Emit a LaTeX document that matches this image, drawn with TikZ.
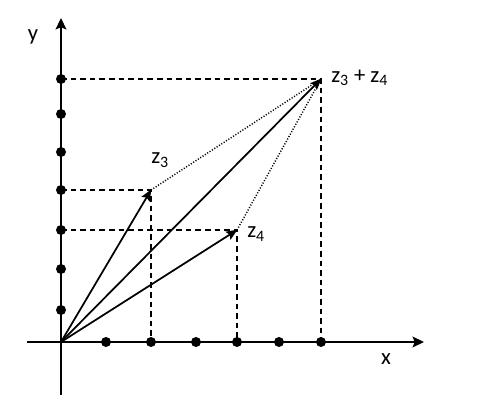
\documentclass[tikz,border=0pt]{standalone}
\usepackage{fontspec}
\setmainfont{Carlito}
\usetikzlibrary{arrows.meta}
\begin{document}
\begin{tikzpicture}[x=0.75pt,y=-0.75pt,
  axis/.style={line width=1.5pt,-{Stealth[length=8.5pt,width=8pt,inset=1.5pt]}},
  vec/.style={line width=1.3pt,-{Stealth[length=8.5pt,width=7pt,inset=1.5pt]},shorten >=-0.5pt},
  guide/.style={line width=1pt,dash pattern=on 4.2pt off 3pt},
  diag/.style={line width=1.1pt,dash pattern=on 0.8pt off 1.3pt},
  tick/.style={circle,fill=black,inner sep=0pt,minimum size=7.5pt},
  lbl/.style={font=\fontsize{17pt}{19pt}\selectfont,inner sep=0pt}]
\useasboundingbox (0,0) rectangle (483,413);
% key points
\coordinate (O) at (61,342);
\coordinate (xl) at (27,342);
\coordinate (xr) at (424,342);
\coordinate (yb) at (61,395);
\coordinate (yt) at (61,18);
\coordinate (z3) at (151,190);
\coordinate (z4) at (237,230);
\coordinate (s) at (321,79);
% guides
\draw[guide] (61,79) -- (s) -- (321,342);
\draw[guide] (61,190) -- (z3) -- (151,342);
\draw[guide] (61,230) -- (z4) -- (237,342);
% axes
\draw[axis] (xl) -- (xr);
\draw[axis] (yb) -- (yt);
% dots on x axis
\foreach \n/\xx in {1/106,2/151,3/196,4/237,5/279,6/321}
  \node[tick] (dx\n) at (\xx,342) {};
% dots on y axis
\foreach \n/\yy in {1/310,2/269,3/230,4/190,5/152,6/114,7/79}
  \node[tick] (dy\n) at (61,\yy) {};
% diagonals of parallelogram
\draw[diag] (z3) -- (s);
\draw[diag] (z4) -- (s);
% vectors
\draw[vec] (O) -- (z3);
\draw[vec] (O) -- (z4);
\draw[vec] (O) -- (s);
% labels
\node[lbl] (ly) at (33,37) {y};
\node[lbl] (lx) at (386,359) {x};
\node[lbl,anchor=west] (l3) at (151,160) {z\textsubscript{3}};
\node[lbl,anchor=west] (l4) at (247,234) {z\textsubscript{4}};
\node[lbl,anchor=west] (ls) at (331,78) {z\textsubscript{3} + z\textsubscript{4}};
\end{tikzpicture}
\end{document}
